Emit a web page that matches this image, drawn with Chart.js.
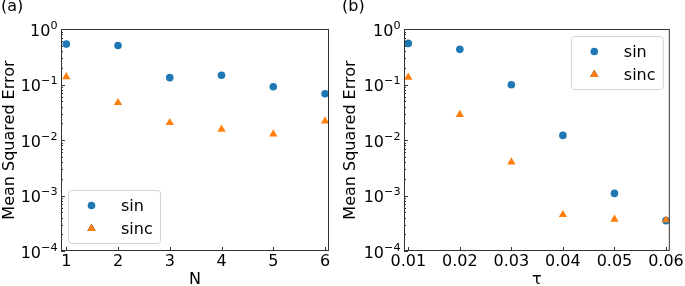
<!DOCTYPE html>
<html>
<head>
<meta charset="utf-8">
<script src="https://cdn.jsdelivr.net/npm/chart.js@4.4.0/dist/chart.umd.min.js"></script>
<style>
  html, body { margin: 0; padding: 0; background: #fff; }
  #wrap { position: relative; width: 685px; height: 286px; overflow: hidden; }
  canvas { position: absolute; top: 0; }
  #chart-a { left: 0; }
  #chart-b { left: 340px; }
  .tag { position: absolute; top: -4px; font: 16px "DejaVu Sans"; color: #000; }
</style>
</head>
<body>
<div id="wrap">
  <canvas id="chart-a" width="340" height="286"></canvas>
  <canvas id="chart-b" width="345" height="286"></canvas>
  <div class="tag" style="left:1px">(a)</div>
  <div class="tag" style="left:342px">(b)</div>
</div>
<script>
// data
var nValues = [1, 2, 3, 4, 5, 6];
var nTickLabels = ['1', '2', '3', '4', '5', '6'];
var sinByN = [0.535, 0.505, 0.133, 0.147, 0.091, 0.068];
var sincByN = [0.137, 0.047, 0.0205, 0.0156, 0.0128, 0.022];

var tauValues = [0.01, 0.02, 0.03, 0.04, 0.05, 0.06];
var tauTickLabels = ['0.01', '0.02', '0.03', '0.04', '0.05', '0.06'];
var sinByTau = [0.55, 0.43, 0.099, 0.0121, 0.00109, 0.000352];
var sincByTau = [0.135, 0.0286, 0.0040, 0.000451, 0.000372, 0.000363];

// y ticks: 10 raised to these exponents
var yTicks = [1e-4, 1e-3, 1e-2, 1e-1, 1];
var yTickExponents = ['\u22124', '\u22123', '\u22122', '\u22121', '0'];

var BLUE = '#1f77b4', ORANGE = '#ff7f0e';
Chart.defaults.font.family = 'DejaVu Sans';
Chart.defaults.font.size = 16;
Chart.defaults.color = '#000';

function toPoints(xs, ys) {
    return xs.map(function(x, i){ return {x: x, y: ys[i]}; });
}

// spines + inward ticks (major and minor) + 10^k labels
var framePlugin = {
    id: 'frame',
    afterDraw: function(chart) {
        var ctx = chart.ctx, a = chart.chartArea, sx = chart.scales.x, sy = chart.scales.y;
        ctx.save();
        ctx.strokeStyle = '#333';
        ctx.lineWidth = 1;
        ctx.beginPath();
        sx.ticks.forEach(function(t){
            var px = Math.round(sx.getPixelForValue(t.value)) + 0.5;
            ctx.moveTo(px, a.bottom); ctx.lineTo(px, a.bottom - 4);
        });
        yTicks.forEach(function(v){
            var py = Math.round(sy.getPixelForValue(v)) + 0.5;
            ctx.moveTo(a.left, py); ctx.lineTo(a.left + 4, py);
        });
        for (var k = -4; k < 0; k++) {
            for (var m = 2; m <= 9; m++) {
                var py = Math.round(sy.getPixelForValue(m * Math.pow(10, k))) + 0.5;
                ctx.moveTo(a.left, py); ctx.lineTo(a.left + 2, py);
            }
        }
        ctx.stroke();
        ctx.strokeRect(a.left + 0.5, a.top + 0.5, a.right - a.left - 1, a.bottom - a.top - 1);

        // mathtext-like labels: "10" with a smaller raised exponent
        ctx.fillStyle = '#000';
        ctx.textBaseline = 'alphabetic';
        ctx.textAlign = 'left';
        yTicks.forEach(function(v, i){
            var py = sy.getPixelForValue(v);
            ctx.font = '11.2px "DejaVu Sans"';
            var ew = ctx.measureText(yTickExponents[i]).width;
            ctx.font = '16px "DejaVu Sans"';
            var bw = ctx.measureText('10').width;
            var right = a.left - 3.5;
            ctx.fillText('10', right - ew - bw, py + 6.5);
            ctx.font = '11.2px "DejaVu Sans"';
            ctx.fillText(yTickExponents[i], right - ew, py - 0.5);
        });
        ctx.restore();
    }
};

// legend box inside the axes
var insideLegend = {
    id: 'insideLegend',
    afterDraw: function(chart, args, opts) {
        var ctx = chart.ctx, a = chart.chartArea;
        var w = 92, h = 53;
        var bx = opts.corner === 'lowerleft' ? a.left + 7 : a.right - 7 - w;
        var by = opts.corner === 'lowerleft' ? a.bottom - 8 - h : a.top + 7;
        ctx.save();
        ctx.fillStyle = 'rgba(255,255,255,0.8)';
        ctx.strokeStyle = '#d4d4d4';
        ctx.lineWidth = 1;
        ctx.beginPath();
        ctx.roundRect(bx + 0.5, by + 0.5, w, h, 3);
        ctx.fill();
        ctx.stroke();
        var rows = [15.5, 38.5];
        chart.data.datasets.forEach(function(ds, i){
            var cy = by + rows[i];
            Chart.helpers.drawPoint(ctx, {
                pointStyle: ds.pointStyle, radius: ds.pointRadius, borderWidth: 0, rotation: 0
            }, bx + 23.5, cy);
            ctx.fillStyle = ds.backgroundColor;
            ctx.fill();
            ctx.fillStyle = '#000';
            ctx.font = '16px "DejaVu Sans"';
            ctx.textBaseline = 'middle';
            ctx.textAlign = 'left';
            ctx.fillText(ds.label, bx + 53, cy + 1);
        });
        ctx.restore();
    }
};

function makeChart(id, xs, sinVals, sincVals, xTickLabels, xMin, xMax, xTitle, yWidth, padRight, legendCorner, titlePad) {
    return new Chart(document.getElementById(id), {
        type: 'scatter',
        data: {
            datasets: [
                {
                    label: 'sin',
                    data: toPoints(xs, sinVals),
                    backgroundColor: BLUE,
                    borderColor: BLUE,
                    borderWidth: 0,
                    pointStyle: 'circle',
                    pointRadius: 3.8,
                    order: 1,
                    clip: false
                },
                {
                    label: 'sinc',
                    data: toPoints(xs, sincVals),
                    backgroundColor: ORANGE,
                    borderColor: ORANGE,
                    borderWidth: 0,
                    pointStyle: 'triangle',
                    pointRadius: 4.8,
                    order: 0,
                    clip: false
                }
            ]
        },
        options: {
            responsive: false,
            animation: false,
            layout: { padding: { left: 0, top: 29, right: padRight, bottom: 0 } },
            plugins: {
                legend: { display: false },
                tooltip: { enabled: false },
                insideLegend: { corner: legendCorner }
            },
            scales: {
                x: {
                    type: 'linear',
                    min: xMin,
                    max: xMax,
                    grid: { display: false, drawTicks: false },
                    border: { display: false },
                    afterBuildTicks: function(s){ s.ticks = xs.map(function(v){ return {value: v}; }); },
                    afterFit: function(s){ s.height = 35; },
                    ticks: {
                        autoSkip: false, maxRotation: 0, padding: 1,
                        callback: function(v, i){ return xTickLabels[i]; }
                    },
                    title: { display: true, text: xTitle, padding: { top: 0, bottom: -3.5 } }
                },
                y: {
                    type: 'logarithmic',
                    min: 1e-4,
                    max: 1,
                    grid: { display: false, drawTicks: false },
                    border: { display: false },
                    afterBuildTicks: function(s){ s.ticks = yTicks.map(function(v){ return {value: v}; }); },
                    afterFit: function(s){ s.width = yWidth; },
                    ticks: { display: false },
                    title: { display: true, text: 'Mean Squared Error', padding: { top: titlePad, bottom: 0 } }
                }
            }
        },
        plugins: [framePlugin, insideLegend]
    });
}

makeChart('chart-a', nValues, sinByN, sincByN, nTickLabels, 0.898, 6.077, 'N', 61, 11, 'lowerleft', 0);
makeChart('chart-b', tauValues, sinByTau, sincByTau, tauTickLabels, 0.00917, 0.06074, '\u03C4', 64, 14, 'upperright', 1);
</script>
</body>
</html>
